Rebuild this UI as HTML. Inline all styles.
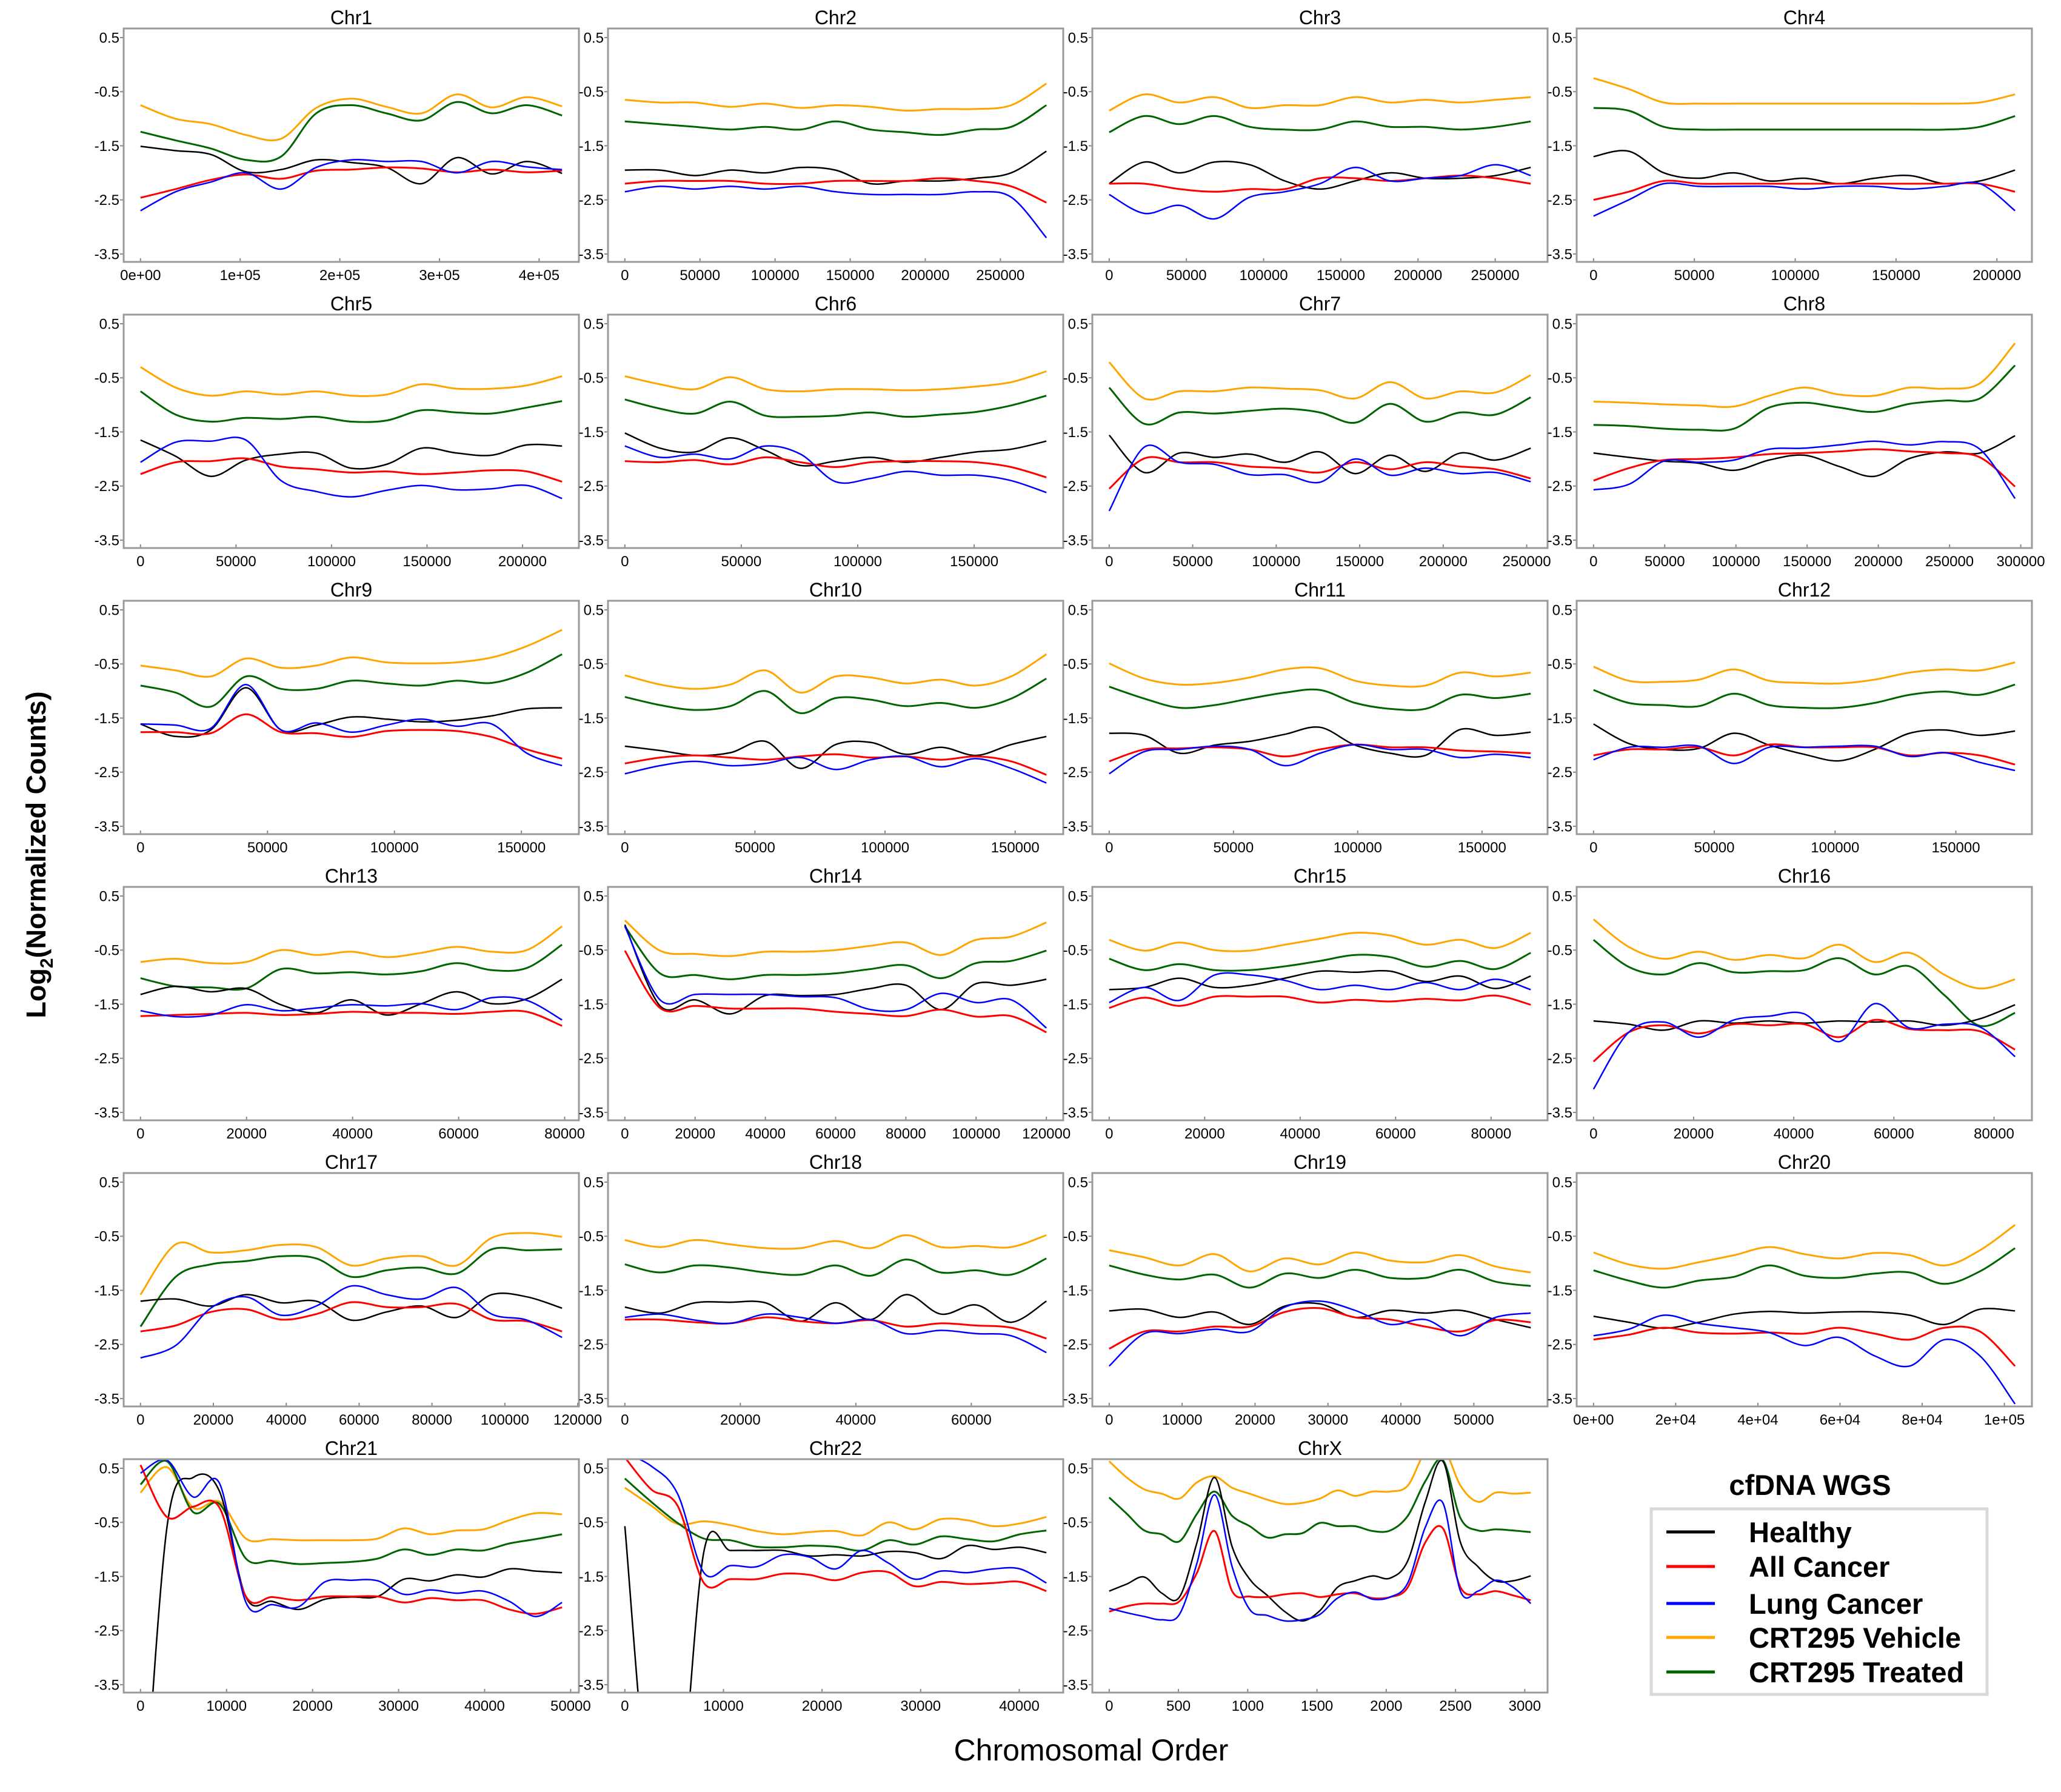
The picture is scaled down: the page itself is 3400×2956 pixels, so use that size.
<!DOCTYPE html>
<html><head><meta charset="utf-8"><style>
html,body{margin:0;padding:0;background:#fff;}
svg{display:block;font-family:"Liberation Sans",Arial,sans-serif;}
</style></head><body>
<svg id="fig" width="3400" height="2956" viewBox="0 0 3400 2956" xmlns="http://www.w3.org/2000/svg">
<rect x="0" y="0" width="3400" height="2956" fill="#fff"/>
<g id="panels"></g>
<text transform="translate(75,1410) rotate(-90)" text-anchor="middle" font-size="45" font-weight="bold">Log<tspan font-size="30" dy="12">2</tspan><tspan dy="-12">(Normalized Counts)</tspan></text>
<text x="1800" y="2904" text-anchor="middle" font-size="50">Chromosomal Order</text>
<g>
<text x="2986" y="2466" text-anchor="middle" font-size="47" font-weight="bold">cfDNA WGS</text>
<rect x="2724" y="2489" width="554" height="306" fill="#fff" stroke="#d9d9d9" stroke-width="5"/>
<g id="legend-entries"></g>
</g>
</svg>
<script>
const chrNames=["Chr1","Chr2","Chr3","Chr4","Chr5","Chr6","Chr7","Chr8","Chr9","Chr10","Chr11","Chr12","Chr13","Chr14","Chr15","Chr16","Chr17","Chr18","Chr19","Chr20","Chr21","Chr22","ChrX"];
const chrLengths=[423000,280600,273000,209000,220700,181000,252400,296000,166000,162000,169600,174500,79500,120000,88300,84200,115700,73000,57800,102600,49000,42750,3043];
const xTickValues=[[0,1e5,2e5,3e5,4e5],[0,50000,100000,150000,200000,250000],[0,50000,100000,150000,200000,250000],[0,50000,100000,150000,200000],[0,50000,100000,150000,200000],[0,50000,100000,150000],[0,50000,100000,150000,200000,250000],[0,50000,100000,150000,200000,250000,300000],[0,50000,100000,150000],[0,50000,100000,150000],[0,50000,100000,150000],[0,50000,100000,150000],[0,20000,40000,60000,80000],[0,20000,40000,60000,80000,100000,120000],[0,20000,40000,60000,80000],[0,20000,40000,60000,80000],[0,20000,40000,60000,80000,100000,120000],[0,20000,40000,60000],[0,10000,20000,30000,40000,50000],[0,2e4,4e4,6e4,8e4,1e5],[0,10000,20000,30000,40000,50000],[0,10000,20000,30000,40000],[0,500,1000,1500,2000,2500,3000]];
const sciLabelChrs=["Chr1","Chr20"];
const yTickValues=[0.5,-0.5,-1.5,-2.5,-3.5];
const yTickLabels=["0.5","-0.5","-1.5","-2.5","-3.5"];
const seriesNames=["Healthy","All Cancer","Lung Cancer","CRT295 Vehicle","CRT295 Treated"];

const vehicle=[
[-0.75,-1.0,-1.1,-1.3,-1.37,-0.8,-0.63,-0.78,-0.9,-0.55,-0.79,-0.6,-0.77],
[-0.65,-0.7,-0.7,-0.78,-0.72,-0.8,-0.75,-0.78,-0.85,-0.82,-0.82,-0.75,-0.35],
[-0.85,-0.55,-0.7,-0.6,-0.8,-0.75,-0.75,-0.6,-0.7,-0.65,-0.7,-0.65,-0.6],
[-0.25,-0.45,-0.7,-0.72,-0.72,-0.72,-0.72,-0.72,-0.72,-0.72,-0.72,-0.7,-0.55],
[-0.3,-0.68,-0.83,-0.75,-0.81,-0.75,-0.83,-0.81,-0.62,-0.7,-0.7,-0.64,-0.47],
[-0.47,-0.62,-0.71,-0.49,-0.71,-0.75,-0.71,-0.71,-0.73,-0.71,-0.66,-0.58,-0.38],
[-0.21,-0.88,-0.75,-0.75,-0.68,-0.7,-0.73,-0.88,-0.58,-0.88,-0.75,-0.77,-0.45],
[-0.94,-0.96,-0.99,-1.01,-1.03,-0.83,-0.68,-0.81,-0.83,-0.68,-0.7,-0.6,0.14],
[-0.53,-0.62,-0.73,-0.4,-0.57,-0.53,-0.38,-0.47,-0.49,-0.47,-0.38,-0.17,0.13],
[-0.71,-0.88,-0.96,-0.88,-0.62,-1.03,-0.73,-0.75,-0.86,-0.79,-0.9,-0.73,-0.32],
[-0.49,-0.77,-0.88,-0.85,-0.75,-0.6,-0.58,-0.81,-0.9,-0.9,-0.66,-0.73,-0.66],
[-0.55,-0.81,-0.83,-0.79,-0.6,-0.81,-0.85,-0.86,-0.79,-0.66,-0.6,-0.62,-0.47],
[-0.72,-0.66,-0.74,-0.72,-0.5,-0.59,-0.53,-0.63,-0.55,-0.44,-0.53,-0.5,-0.06],
[0.05,-0.51,-0.57,-0.61,-0.53,-0.53,-0.5,-0.42,-0.36,-0.59,-0.31,-0.25,0.01],
[-0.31,-0.51,-0.36,-0.5,-0.51,-0.4,-0.29,-0.18,-0.23,-0.4,-0.31,-0.46,-0.18],
[0.07,-0.44,-0.66,-0.53,-0.68,-0.59,-0.65,-0.4,-0.72,-0.55,-0.96,-1.21,-1.04],
[-1.58,-0.65,-0.8,-0.76,-0.66,-0.7,-1.04,-0.91,-0.87,-1.04,-0.53,-0.44,-0.51],
[-0.57,-0.7,-0.57,-0.65,-0.72,-0.72,-0.59,-0.72,-0.48,-0.7,-0.68,-0.7,-0.48],
[-0.76,-0.89,-1.04,-0.83,-1.15,-0.91,-1.02,-0.8,-0.95,-0.98,-0.85,-1.06,-1.17],
[-0.8,-1.02,-1.1,-0.98,-0.85,-0.7,-0.83,-0.91,-0.81,-0.85,-1.04,-0.76,-0.29],
[0.05,0.52,-0.23,-0.12,-0.8,-0.81,-0.83,-0.83,-0.83,-0.8,-0.61,-0.72,-0.65,-0.63,-0.46,-0.33,-0.35],
[0.14,-0.19,-0.53,-0.48,-0.55,-0.66,-0.72,-0.68,-0.66,-0.74,-0.5,-0.63,-0.44,-0.46,-0.57,-0.52,-0.4],
[0.63,0.33,0.11,0.03,-0.06,0.24,0.35,0.14,0.03,-0.08,-0.16,-0.14,-0.06,0.09,-0.01,0.07,0.07,0.18,0.8,0.9,0.18,-0.12,0.05,0.03,0.05]
];
const treated=[
[-1.24,-1.4,-1.55,-1.76,-1.7,-0.9,-0.75,-0.9,-1.03,-0.69,-0.9,-0.75,-0.94],
[-1.05,-1.1,-1.15,-1.2,-1.15,-1.2,-1.05,-1.2,-1.25,-1.3,-1.2,-1.15,-0.75],
[-1.25,-0.95,-1.1,-0.95,-1.15,-1.2,-1.2,-1.05,-1.15,-1.15,-1.2,-1.15,-1.05],
[-0.8,-0.85,-1.15,-1.2,-1.2,-1.2,-1.2,-1.2,-1.2,-1.2,-1.2,-1.15,-0.95],
[-0.75,-1.18,-1.31,-1.24,-1.26,-1.22,-1.31,-1.29,-1.1,-1.14,-1.16,-1.05,-0.93],
[-0.9,-1.07,-1.16,-0.94,-1.2,-1.22,-1.2,-1.14,-1.22,-1.18,-1.13,-1.01,-0.83],
[-0.68,-1.35,-1.14,-1.16,-1.11,-1.07,-1.14,-1.33,-0.98,-1.31,-1.14,-1.18,-0.86],
[-1.37,-1.39,-1.44,-1.46,-1.44,-1.05,-0.96,-1.05,-1.13,-0.98,-0.92,-0.88,-0.27],
[-0.9,-1.03,-1.29,-0.73,-0.96,-0.96,-0.81,-0.86,-0.9,-0.81,-0.85,-0.66,-0.32],
[-1.11,-1.26,-1.35,-1.28,-1.0,-1.41,-1.13,-1.16,-1.28,-1.22,-1.31,-1.14,-0.77],
[-0.92,-1.14,-1.31,-1.26,-1.14,-1.03,-0.98,-1.22,-1.33,-1.33,-1.07,-1.13,-1.05],
[-0.98,-1.22,-1.26,-1.28,-1.05,-1.26,-1.31,-1.31,-1.22,-1.07,-1.01,-1.07,-0.88],
[-1.02,-1.17,-1.19,-1.21,-0.85,-0.93,-0.91,-0.95,-0.89,-0.74,-0.87,-0.83,-0.4],
[-0.06,-0.93,-0.96,-1.04,-0.96,-0.96,-0.93,-0.85,-0.78,-1.02,-0.74,-0.7,-0.51],
[-0.66,-0.87,-0.76,-0.87,-0.87,-0.8,-0.7,-0.59,-0.63,-0.81,-0.7,-0.85,-0.55],
[-0.31,-0.81,-0.95,-0.74,-0.91,-0.89,-0.87,-0.65,-0.95,-0.8,-1.34,-1.9,-1.66],
[-2.17,-1.25,-1.02,-0.96,-0.87,-0.91,-1.25,-1.13,-1.08,-1.19,-0.74,-0.76,-0.74],
[-1.02,-1.17,-1.04,-1.08,-1.17,-1.21,-1.04,-1.23,-0.93,-1.17,-1.13,-1.21,-0.91],
[-1.04,-1.21,-1.3,-1.21,-1.45,-1.19,-1.27,-1.12,-1.27,-1.27,-1.12,-1.34,-1.42],
[-1.13,-1.32,-1.45,-1.32,-1.25,-1.04,-1.23,-1.27,-1.19,-1.17,-1.38,-1.15,-0.72],
[0.2,0.63,-0.31,-0.16,-1.17,-1.21,-1.27,-1.25,-1.23,-1.17,-1.0,-1.1,-1.0,-1.02,-0.89,-0.81,-0.72],
[0.31,-0.12,-0.51,-0.8,-0.83,-0.95,-0.96,-0.93,-0.95,-1.02,-0.83,-0.91,-0.76,-0.81,-0.85,-0.72,-0.65],
[-0.04,-0.34,-0.65,-0.72,-0.85,-0.34,0.07,-0.38,-0.57,-0.78,-0.72,-0.7,-0.51,-0.57,-0.57,-0.66,-0.65,-0.38,0.26,0.65,-0.42,-0.65,-0.63,-0.65,-0.68]
];
const healthy=[
[-1.51,-1.59,-1.66,-1.98,-1.94,-1.76,-1.81,-1.9,-2.2,-1.72,-2.02,-1.79,-2.01],
[-1.95,-1.95,-2.05,-1.95,-2.0,-1.9,-1.95,-2.2,-2.15,-2.15,-2.1,-2.0,-1.6],
[-2.2,-1.8,-2.0,-1.8,-1.85,-2.15,-2.3,-2.15,-2.0,-2.1,-2.1,-2.05,-1.9],
[-1.7,-1.6,-2.0,-2.1,-2.0,-2.15,-2.1,-2.2,-2.1,-2.05,-2.2,-2.15,-1.95],
[-1.65,-1.95,-2.32,-2.02,-1.91,-1.89,-2.17,-2.1,-1.8,-1.89,-1.93,-1.74,-1.76],
[-1.52,-1.8,-1.87,-1.61,-1.84,-2.12,-2.04,-1.97,-2.06,-1.97,-1.87,-1.82,-1.67],
[-1.56,-2.25,-1.89,-1.97,-1.91,-2.06,-1.87,-2.27,-1.93,-2.23,-1.89,-2.02,-1.8],
[-1.89,-1.97,-2.04,-2.08,-2.21,-2.02,-1.93,-2.14,-2.32,-1.99,-1.87,-1.89,-1.57],
[-1.61,-1.84,-1.72,-0.94,-1.72,-1.63,-1.48,-1.52,-1.57,-1.54,-1.46,-1.33,-1.31],
[-2.02,-2.1,-2.19,-2.14,-1.93,-2.43,-1.99,-1.95,-2.17,-2.04,-2.19,-1.99,-1.84],
[-1.78,-1.82,-2.15,-2.0,-1.93,-1.8,-1.67,-2.0,-2.15,-2.19,-1.71,-1.82,-1.76],
[-1.61,-1.97,-2.08,-2.06,-1.78,-2.0,-2.17,-2.29,-2.08,-1.78,-1.72,-1.82,-1.74],
[-1.32,-1.17,-1.27,-1.21,-1.51,-1.66,-1.42,-1.7,-1.49,-1.27,-1.49,-1.4,-1.04],
[-0.03,-1.53,-1.42,-1.68,-1.34,-1.34,-1.32,-1.21,-1.15,-1.6,-1.12,-1.15,-1.04],
[-1.23,-1.19,-1.02,-1.19,-1.15,-1.02,-0.89,-0.91,-0.89,-1.08,-0.98,-1.21,-0.98],
[-1.81,-1.87,-1.98,-1.81,-1.85,-1.81,-1.85,-1.81,-1.83,-1.81,-1.89,-1.77,-1.51],
[-1.7,-1.66,-1.79,-1.58,-1.73,-1.7,-2.05,-1.9,-1.79,-2.0,-1.58,-1.62,-1.83],
[-1.81,-1.92,-1.73,-1.72,-1.73,-2.07,-1.73,-2.04,-1.58,-1.94,-1.77,-2.09,-1.7],
[-1.88,-1.85,-2.0,-1.9,-2.13,-1.79,-1.75,-2.0,-1.87,-1.92,-1.87,-2.04,-2.19],
[-1.98,-2.09,-2.2,-2.09,-1.94,-1.89,-1.92,-1.9,-1.9,-1.96,-2.13,-1.85,-1.88],
[-7,-0.6,0.33,0.07,-1.88,-1.96,-2.11,-1.92,-1.88,-1.87,-1.55,-1.58,-1.47,-1.51,-1.36,-1.4,-1.43],
[-0.57,-6,-6,-1.04,-1.02,-1.02,-1.02,-1.12,-1.1,-1.12,-1.04,-1.06,-1.17,-0.93,-1.0,-0.96,-1.06],
[-1.77,-1.64,-1.51,-1.81,-1.88,-0.87,0.33,-0.95,-1.55,-1.85,-2.15,-2.32,-2.13,-1.7,-1.58,-1.49,-1.53,-1.21,-0.12,0.63,-0.87,-1.32,-1.58,-1.58,-1.49]
];
const allCancer=[
[-2.46,-2.3,-2.13,-2.03,-2.11,-1.96,-1.94,-1.9,-1.92,-1.99,-1.94,-1.99,-1.96],
[-2.2,-2.15,-2.15,-2.15,-2.2,-2.2,-2.15,-2.15,-2.15,-2.1,-2.15,-2.25,-2.55],
[-2.2,-2.2,-2.3,-2.35,-2.3,-2.3,-2.1,-2.1,-2.15,-2.1,-2.05,-2.1,-2.2],
[-2.5,-2.35,-2.15,-2.2,-2.2,-2.2,-2.2,-2.2,-2.2,-2.2,-2.2,-2.2,-2.35],
[-2.28,-2.06,-2.04,-1.99,-2.14,-2.19,-2.25,-2.23,-2.28,-2.25,-2.21,-2.23,-2.42],
[-2.04,-2.06,-2.02,-2.1,-1.97,-2.06,-2.15,-2.06,-2.04,-2.04,-2.06,-2.15,-2.34],
[-2.55,-1.99,-2.06,-2.06,-2.14,-2.17,-2.25,-2.06,-2.19,-2.06,-2.14,-2.19,-2.36],
[-2.4,-2.17,-2.02,-2.0,-1.97,-1.91,-1.89,-1.86,-1.82,-1.86,-1.89,-1.97,-2.51],
[-1.76,-1.76,-1.78,-1.43,-1.76,-1.78,-1.85,-1.74,-1.72,-1.74,-1.85,-2.08,-2.25],
[-2.34,-2.23,-2.19,-2.23,-2.27,-2.21,-2.17,-2.23,-2.21,-2.27,-2.21,-2.3,-2.55],
[-2.3,-2.08,-2.06,-2.04,-2.08,-2.21,-2.08,-1.99,-2.04,-2.04,-2.1,-2.12,-2.15],
[-2.19,-2.08,-2.08,-2.04,-2.19,-1.99,-2.04,-2.04,-2.04,-2.19,-2.14,-2.19,-2.36],
[-1.72,-1.7,-1.68,-1.66,-1.7,-1.68,-1.64,-1.66,-1.66,-1.68,-1.64,-1.64,-1.9],
[-0.51,-1.57,-1.53,-1.58,-1.58,-1.58,-1.64,-1.68,-1.72,-1.6,-1.73,-1.72,-2.02],
[-1.57,-1.38,-1.53,-1.36,-1.36,-1.36,-1.47,-1.42,-1.45,-1.4,-1.43,-1.34,-1.51],
[-2.56,-2.02,-1.89,-2.04,-1.87,-1.89,-1.87,-2.11,-1.79,-1.96,-1.98,-2.0,-2.34],
[-2.26,-2.15,-1.9,-1.85,-2.04,-1.94,-1.72,-1.81,-1.81,-1.75,-2.04,-2.07,-2.26],
[-2.04,-2.04,-2.09,-2.11,-2.0,-2.07,-2.11,-2.05,-2.17,-2.11,-2.15,-2.19,-2.39],
[-2.58,-2.26,-2.26,-2.17,-2.17,-1.9,-1.83,-2.0,-2.04,-2.17,-2.26,-2.05,-2.09],
[-2.41,-2.32,-2.19,-2.28,-2.3,-2.28,-2.3,-2.19,-2.3,-2.41,-2.19,-2.26,-2.9],
[0.56,-0.4,-0.21,-0.23,-1.87,-1.88,-1.94,-1.87,-1.87,-1.87,-1.98,-1.9,-1.94,-1.94,-2.11,-2.19,-2.07],
[0.7,0.11,-0.19,-1.62,-1.55,-1.55,-1.45,-1.47,-1.57,-1.43,-1.42,-1.68,-1.6,-1.64,-1.62,-1.6,-1.77],
[-2.15,-2.05,-2.0,-2.0,-1.96,-1.43,-0.66,-1.77,-1.87,-1.88,-1.83,-1.81,-1.88,-1.83,-1.81,-1.9,-1.88,-1.7,-0.87,-0.61,-1.7,-1.83,-1.77,-1.85,-1.94]
];
const lungCancer=[
[-2.7,-2.35,-2.17,-2.0,-2.3,-1.9,-1.76,-1.79,-1.79,-2.0,-1.79,-1.89,-1.94],
[-2.35,-2.25,-2.3,-2.25,-2.3,-2.25,-2.35,-2.4,-2.4,-2.4,-2.35,-2.45,-3.2],
[-2.4,-2.75,-2.6,-2.85,-2.45,-2.35,-2.2,-1.9,-2.15,-2.1,-2.05,-1.85,-2.05],
[-2.8,-2.5,-2.2,-2.25,-2.25,-2.25,-2.3,-2.25,-2.25,-2.3,-2.25,-2.2,-2.7],
[-2.06,-1.69,-1.67,-1.65,-2.4,-2.6,-2.7,-2.58,-2.49,-2.57,-2.55,-2.49,-2.73],
[-1.76,-1.97,-1.91,-2.0,-1.76,-1.91,-2.42,-2.36,-2.23,-2.3,-2.3,-2.4,-2.62],
[-2.96,-1.78,-2.06,-2.1,-2.29,-2.29,-2.43,-2.0,-2.3,-2.17,-2.27,-2.25,-2.42],
[-2.57,-2.47,-2.04,-2.06,-2.02,-1.82,-1.8,-1.74,-1.67,-1.74,-1.68,-1.82,-2.73],
[-1.61,-1.63,-1.69,-0.88,-1.72,-1.59,-1.76,-1.63,-1.52,-1.65,-1.61,-2.15,-2.38],
[-2.53,-2.38,-2.3,-2.38,-2.34,-2.23,-2.45,-2.27,-2.21,-2.4,-2.25,-2.43,-2.7],
[-2.53,-2.12,-2.08,-2.02,-2.08,-2.38,-2.15,-1.99,-2.08,-2.08,-2.23,-2.17,-2.23],
[-2.27,-2.04,-2.04,-2.02,-2.34,-2.04,-2.04,-2.02,-2.02,-2.21,-2.14,-2.32,-2.47],
[-1.62,-1.73,-1.7,-1.51,-1.62,-1.57,-1.51,-1.53,-1.49,-1.6,-1.38,-1.43,-1.79],
[-0.06,-1.42,-1.32,-1.32,-1.32,-1.36,-1.38,-1.6,-1.6,-1.3,-1.47,-1.42,-1.94],
[-1.47,-1.19,-1.43,-0.96,-0.96,-1.06,-1.23,-1.15,-1.23,-1.1,-1.23,-1.04,-1.23],
[-3.07,-2.02,-1.83,-2.11,-1.79,-1.72,-1.68,-2.19,-1.49,-1.94,-1.87,-1.92,-2.47],
[-2.75,-2.52,-1.83,-1.62,-1.96,-1.79,-1.42,-1.58,-1.66,-1.45,-1.94,-2.05,-2.37],
[-2.0,-1.94,-2.05,-2.11,-1.94,-2.0,-2.11,-2.04,-2.3,-2.24,-2.3,-2.34,-2.65],
[-2.9,-2.3,-2.3,-2.22,-2.26,-1.81,-1.7,-1.87,-2.13,-2.04,-2.34,-2.0,-1.92],
[-2.34,-2.22,-1.96,-2.11,-2.19,-2.28,-2.52,-2.37,-2.71,-2.9,-2.41,-2.71,-3.6],
[0.41,0.65,-0.03,0.22,-1.98,-2.02,-2.06,-1.6,-1.57,-1.58,-1.83,-1.75,-1.81,-1.77,-1.96,-2.24,-1.98],
[0.78,0.54,0.03,-1.43,-1.3,-1.32,-1.1,-1.14,-1.36,-1.02,-1.25,-1.55,-1.4,-1.43,-1.36,-1.36,-1.62],
[-2.09,-2.17,-2.24,-2.3,-2.2,-1.25,0.01,-1.32,-2.11,-2.22,-2.32,-2.3,-2.2,-1.9,-1.79,-1.92,-1.88,-1.62,-0.59,-0.14,-1.77,-1.77,-1.57,-1.7,-2.0]
];

const NS="http://www.w3.org/2000/svg";
const PW=751, PH=385, YMAX=0.668, YMIN=-3.646;
function mk(tag,attrs,parent){const e=document.createElementNS(NS,tag);for(const k in attrs)e.setAttribute(k,attrs[k]);if(parent)parent.appendChild(e);return e;}
function fmtSci(v){if(v===0)return "0e+00";const ex=Math.floor(Math.log10(v)+1e-9);const m=Math.round(v/Math.pow(10,ex));return m+"e+"+(ex<10?"0":"")+ex;}
function smoothPath(pts){
  let d="M"+pts[0][0].toFixed(1)+","+pts[0][1].toFixed(1);
  for(let i=0;i<pts.length-1;i++){
    const p0=pts[i-1]||pts[i],p1=pts[i],p2=pts[i+1],p3=pts[i+2]||pts[i+1];
    const c1x=p1[0]+(p2[0]-p0[0])/6,c1y=p1[1]+(p2[1]-p0[1])/6;
    const c2x=p2[0]-(p3[0]-p1[0])/6,c2y=p2[1]-(p3[1]-p1[1])/6;
    d+=" C"+c1x.toFixed(1)+","+c1y.toFixed(1)+" "+c2x.toFixed(1)+","+c2y.toFixed(1)+" "+p2[0].toFixed(1)+","+p2[1].toFixed(1);
  }
  return d;
}
const panelsG=document.getElementById("panels");
const seriesData=[vehicle,treated,healthy,allCancer,lungCancer];
const seriesColors=["#ffa500","#006400","#000000","#ff0000","#0000ff"];
const seriesKeys=["crt295-vehicle","crt295-treated","healthy","all-cancer","lung-cancer"];
const seriesWidths=[3,3,2.5,3,2.5];
const defs=mk("defs",{},panelsG);
chrNames.forEach((name,i)=>{
  const col=i%4,row=Math.floor(i/4);
  const L=204+col*799, T=47+row*472;
  const N=chrLengths[i];
  const xS=v=>L+PW*(0.04*N+v)/(1.08*N);
  const yS=v=>T+PH*(YMAX-v)/(YMAX-YMIN);
  const g=mk("g",{},panelsG);
  
  
  const cp=mk("clipPath",{id:"cp"+i},defs);
  mk("rect",{x:L,y:T,width:PW,height:PH},cp);
  const title=mk("text",{x:L+PW/2,y:T-7,"text-anchor":"middle","font-size":32},g);
  title.textContent=name;
  
  
  yTickValues.forEach((v,k)=>{
    const y=yS(v);
    const tk=mk("line",{x1:L-6,x2:L,y1:y,y2:y,stroke:"#888","stroke-width":2},g);
    
    
    const t=mk("text",{x:L-7,y:y+8.5,"text-anchor":"end","font-size":24},g);
    t.textContent=yTickLabels[k];
    
    
  });
  xTickValues[i].forEach(v=>{
    const x=xS(v);
    const tk=mk("line",{x1:x,x2:x,y1:T+PH-6,y2:T+PH,stroke:"#888","stroke-width":2},g);
    
    
    const t=mk("text",{x:x,y:T+PH+30,"text-anchor":"middle","font-size":24},g);
    t.textContent=sciLabelChrs.includes(name)?fmtSci(v):String(v);
    
    
  });
  const lines=mk("g",{"clip-path":"url(#cp"+i+")"},g);
  seriesData.forEach((arr,s)=>{
    const vals=arr[i];
    const n=vals.length;
    const pts=vals.map((v,k)=>[xS(N*k/(n-1)),yS(v)]);
    const p=mk("path",{d:smoothPath(pts),fill:"none",stroke:seriesColors[s],"stroke-width":seriesWidths[s],"stroke-linejoin":"round"},lines);
    
    
  });
  const fr=mk("rect",{x:L,y:T,width:PW,height:PH,fill:"none",stroke:"#9a9a9a","stroke-width":3},g);
  
  
});
const legendOrder=[2,3,4,0,1];
const legG=document.getElementById("legend-entries");
const legY=[2527,2584,2645,2701,2758];
legendOrder.forEach((s,k)=>{
  const e=mk("g",{},legG);
  
  
  mk("line",{x1:2749,x2:2829,y1:legY[k],y2:legY[k],stroke:seriesColors[s],"stroke-width":5},e);
  const t=mk("text",{x:2885,y:legY[k]+17,"font-size":47,"font-weight":"bold"},e);
  t.textContent=seriesNames[k];
});
</script>
</body></html>
